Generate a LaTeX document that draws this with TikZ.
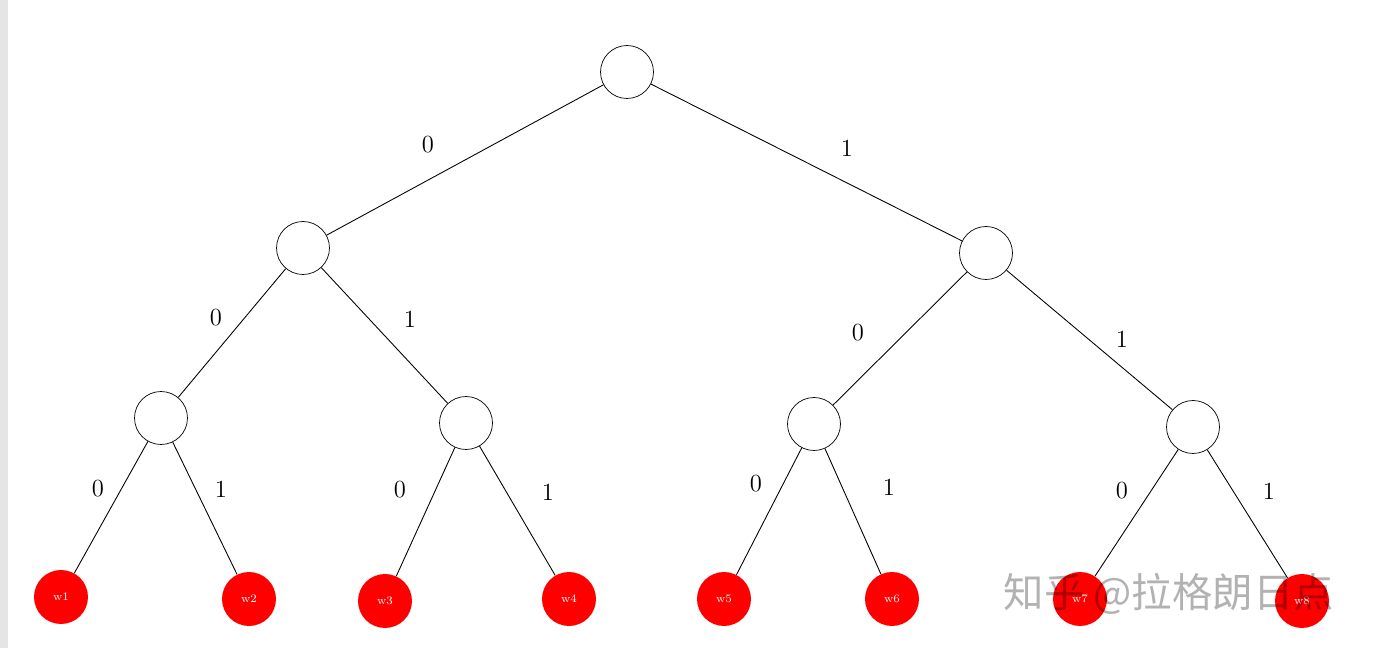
\documentclass[tikz,border=0pt]{standalone}
\usepackage{fontspec}
\newfontfamily\cjk{Noto Sans CJK SC}
\begin{document}
\begin{tikzpicture}[x=0.02cm,y=-0.02cm,
  inner/.style={circle,draw,inner sep=0pt,minimum size=1.06cm},
  leaf/.style={circle,fill=red,text=white,inner sep=0pt,minimum size=1.08cm,font=\fontsize{6.5}{7}\selectfont},
  lbl/.style={font=\fontsize{14}{16}\selectfont},
  edge/.style={draw,line width=0.5pt}]
\useasboundingbox (0,0) rectangle (1374,648);
\fill[gray!20] (0,0) rectangle (8,648);
\node[inner] (r) at (627,72) {};
\node[inner] (a) at (303,248) {};
\node[inner] (b) at (986,253) {};
\node[inner] (aa) at (161,418) {};
\node[inner] (ab) at (466,423) {};
\node[inner] (ba) at (814,424) {};
\node[inner] (bb) at (1193,427) {};
\node[leaf] (w1) at (61,597) {w1};
\node[leaf] (w2) at (249,599) {w2};
\node[leaf] (w3) at (385,601) {w3};
\node[leaf] (w4) at (569,599) {w4};
\node[leaf] (w5) at (724,599) {w5};
\node[leaf] (w6) at (892,599) {w6};
\node[leaf] (w7) at (1080,599) {w7};
\node[leaf] (w8) at (1302,601) {w8};
\draw[edge] (r)--(a); \draw[edge] (r)--(b);
\draw[edge] (a)--(aa); \draw[edge] (a)--(ab);
\draw[edge] (b)--(ba); \draw[edge] (b)--(bb);
\draw[edge] (aa)--(w1); \draw[edge] (aa)--(w2);
\draw[edge] (ab)--(w3); \draw[edge] (ab)--(w4);
\draw[edge] (ba)--(w5); \draw[edge] (ba)--(w6);
\draw[edge] (bb)--(w7); \draw[edge] (bb)--(w8);
\node[lbl] (l1) at (428,145) {0};
\node[lbl] (l2) at (847,148) {1};
\node[lbl] (l3) at (216,318) {0};
\node[lbl] (l4) at (410,319) {1};
\node[lbl] (l5) at (858,333) {0};
\node[lbl] (l6) at (1122,339) {1};
\node[lbl] (l7) at (98,489) {0};
\node[lbl] (l8) at (221,489) {1};
\node[lbl] (l9) at (400,490) {0};
\node[lbl] (l10) at (548,492) {1};
\node[lbl] (l11) at (756,484) {0};
\node[lbl] (l12) at (889,487) {1};
\node[lbl] (l13) at (1122,491) {0};
\node[lbl] (l14) at (1269,491) {1};
\node[text=black,opacity=0.3,font=\cjk\fontsize{23}{25}\selectfont] (wm) at (1169,594) {知乎 @拉格朗日点};
\end{tikzpicture}
\end{document}
